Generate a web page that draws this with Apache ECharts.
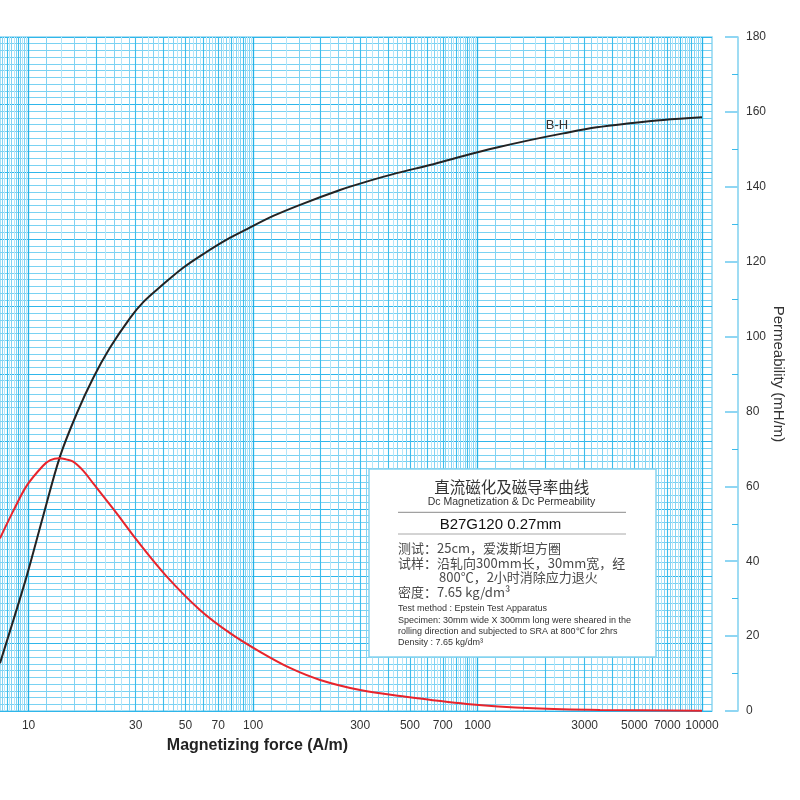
<!DOCTYPE html>
<html>
<head>
<meta charset="utf-8">
<title>B27G120 直流磁化及磁导率曲线</title>
<script src="https://cdn.jsdelivr.net/npm/echarts@6/dist/echarts.min.js"></script>
<style>
  html, body { margin: 0; padding: 0; background: #fff; }
  #main { width: 800px; height: 800px; }
</style>
</head>
<body>
<div id="main"></div>
<script>
// B-H 曲线 (H: A/m, B: T)
const bhH = [7.46, 8.56, 9.8, 11.6, 13.8, 16.4, 19.4, 23, 28.3, 32.5, 38.5, 49, 62, 76, 94, 123, 162, 244, 310, 436, 614, 865, 1220, 1710, 2410, 3400, 4780, 6720, 10000];
const bhB = [0.142, 0.270, 0.399, 0.577, 0.755, 0.883, 0.988, 1.077, 1.166, 1.214, 1.258, 1.316, 1.362, 1.398, 1.430, 1.469, 1.502, 1.546, 1.568, 1.596, 1.620, 1.647, 1.672, 1.694, 1.714, 1.732, 1.744, 1.754, 1.762];

// 磁导率曲线 (mH/m)
const muH = [7.46, 8.56, 9.82, 11.6, 12.5, 13.7, 14.7, 15.8, 17.5, 19.4, 24.7, 30.3, 41.3, 58, 79, 107.5, 146, 199, 300, 452, 895, 1770, 3510, 10000];
const muVal = [46.1, 53.5, 60.2, 65.5, 67.0, 67.5, 67.2, 66.6, 64.2, 60.8, 52.8, 45.7, 35.9, 27.0, 20.8, 15.8, 11.5, 8.3, 5.6, 4.0, 1.9, 0.72, 0.27, 0.1];

// x 轴刻度标签
const xLabels = [10, 30, 50, 70, 100, 300, 500, 700, 1000, 3000, 5000, 7000, 10000];

const xMin = 7.46, xMax = 11080;
const FONT = '"Liberation Sans", Arial, sans-serif';
const CJK = '"Noto Sans CJK SC", sans-serif';

const chart = echarts.init(document.getElementById('main'));

// 对数坐标纸竖线
function gridLines() {
  const out = [];
  [1, 10, 100, 1000, 10000].forEach(function (d) {
    for (let k = 10; k < 100; k += 2) {
      const v = Math.round(k * d) / 10;
      if (v <= xMin || v >= xMax) continue;
      let color = k % 4 === 0 ? '#82d3f3' : '#b4e6f9', width = 1;
      if (k === 10) { color = '#22b2e8'; width = 1.3; }
      else if (k % 10 === 0) { color = '#3dbdec'; width = 1.1; }
      const item = { xAxis: v, lineStyle: { color: color, width: width, type: 'solid' } };
      if (xLabels.indexOf(v) >= 0) {
        item.label = {
          show: true, position: 'start', formatter: String(v), distance: 9,
          color: '#333', fontSize: 12, fontFamily: FONT
        };
      }
      out.push(item);
    }
  });
  return out;
}

function boxText(x, y, text, font, fill, align) {
  return {
    type: 'text', x: x, y: y, z: 101,
    style: { text: text, font: font, fill: fill, align: align, verticalAlign: 'middle' }
  };
}

const option = {
  animation: false,
  backgroundColor: '#fff',
  grid: {
    left: 0, right: 88, top: 37, bottom: 89,
    show: true, borderColor: '#8fd6f1', borderWidth: 1.5, backgroundColor: 'transparent'
  },
  xAxis: {
    type: 'log', min: xMin, max: xMax,
    axisLine: { show: false }, axisTick: { show: false },
    axisLabel: { show: false }, splitLine: { show: false }
  },
  yAxis: [
    {
      type: 'value', min: 0, max: 2.0, interval: 0.2, position: 'left',
      axisLine: { show: false }, axisTick: { show: false }, axisLabel: { show: false },
      splitLine: { show: true, lineStyle: { color: '#2fb6ea', width: 1.2 } },
      minorTick: { show: false, splitNumber: 10 },
      minorSplitLine: { show: true, lineStyle: { color: '#7ad2f2', width: 1 } }
    },
    {
      type: 'value', min: 0, max: 180, interval: 20, position: 'right', offset: 26,
      name: 'Permeability (mH/m)', nameLocation: 'middle', nameGap: 33, nameRotate: -90,
      nameMoveOverlap: false,
      nameTextStyle: { color: '#333', fontSize: 15, fontFamily: FONT },
      axisLine: { show: true, lineStyle: { color: '#7fd0ef', width: 1.5 } },
      axisTick: { show: true, inside: true, length: 13, lineStyle: { color: '#8fd6f3', width: 2 } },
      minorTick: { show: true, splitNumber: 2, length: 6, lineStyle: { color: '#3cbbea', width: 1 } },
      axisLabel: { color: '#333', fontSize: 12, fontFamily: FONT, margin: 8 },
      splitLine: { show: false }
    }
  ],
  series: [
    {
      name: 'grid',
      type: 'line',
      data: [],
      silent: true,
      markLine: {
        z: 1, silent: true, symbol: ['none', 'none'], animation: false,
        label: { show: false },
        emphasis: { disabled: true },
        data: gridLines()
      }
    },
    {
      name: 'B-H',
      type: 'line',
      z: 3,
      yAxisIndex: 0,
      data: bhH.map(function (h, i) { return [h, bhB[i]]; }),
      showSymbol: false,
      smooth: 0.35,
      lineStyle: { color: '#232323', width: 2 }
    },
    {
      name: 'μ',
      type: 'line',
      z: 3,
      yAxisIndex: 1,
      data: muH.map(function (h, i) { return [h, muVal[i]]; }),
      showSymbol: false,
      smooth: 0.35,
      lineStyle: { color: '#e8242c', width: 2 }
    }
  ],
  graphic: [
    {
      type: 'text', x: 557, y: 125, z: 50,
      style: { text: 'B-H', font: '13px ' + FONT, fill: '#333', align: 'center', verticalAlign: 'middle' }
    },
    {
      type: 'text', x: 257.5, y: 746, z: 50,
      style: { text: 'Magnetizing force (A/m)', font: 'bold 16px ' + FONT, fill: '#222', align: 'center', verticalAlign: 'middle' }
    },
    {
      type: 'group', x: 369, y: 469, z: 100,
      children: [
        { type: 'rect', z: 100, shape: { x: 0, y: 0, width: 287, height: 188 }, style: { fill: '#ffffff', stroke: '#86d3f0', lineWidth: 1.5 } },
        boxText(142.7, 17.7, '直流磁化及磁导率曲线', '15.5px ' + CJK, '#333', 'center'),
        boxText(142.5, 32.7, 'Dc Magnetization & Dc Permeability', '10.5px ' + FONT, '#333', 'center'),
        { type: 'line', z: 101, shape: { x1: 29, y1: 43.3, x2: 257, y2: 43.3 }, style: { stroke: '#8a8a8a', lineWidth: 1 } },
        boxText(131.5, 56, 'B27G120 0.27mm', '15px ' + FONT, '#111', 'center'),
        { type: 'line', z: 101, shape: { x1: 29, y1: 65, x2: 257, y2: 65 }, style: { stroke: '#a8a8a8', lineWidth: 1 } },
        boxText(29, 79.3, '测试：25cm，爱泼斯坦方圈', '13px ' + CJK, '#4a4a4a', 'left'),
        boxText(29, 94.3, '试样：沿轧向300mm长，30mm宽，经', '13px ' + CJK, '#4a4a4a', 'left'),
        boxText(70, 107.7, '800℃，2小时消除应力退火', '13px ' + CJK, '#4a4a4a', 'left'),
        boxText(29, 122.7, '密度：7.65 kg/dm³', '13px ' + CJK, '#4a4a4a', 'left'),
        boxText(29, 140, 'Test method : Epstein Test Apparatus', '9px ' + FONT, '#333', 'left'),
        boxText(29, 152, 'Specimen: 30mm wide X 300mm long were sheared in the', '9px ' + FONT, '#333', 'left'),
        boxText(29, 162.5, 'rolling direction and subjected to SRA at 800℃ for 2hrs', '9px ' + FONT, '#333', 'left'),
        boxText(29, 173.7, 'Density : 7.65 kg/dm³', '9px ' + FONT, '#333', 'left')
      ]
    }
  ]
};

chart.setOption(option);
</script>
</body>
</html>
